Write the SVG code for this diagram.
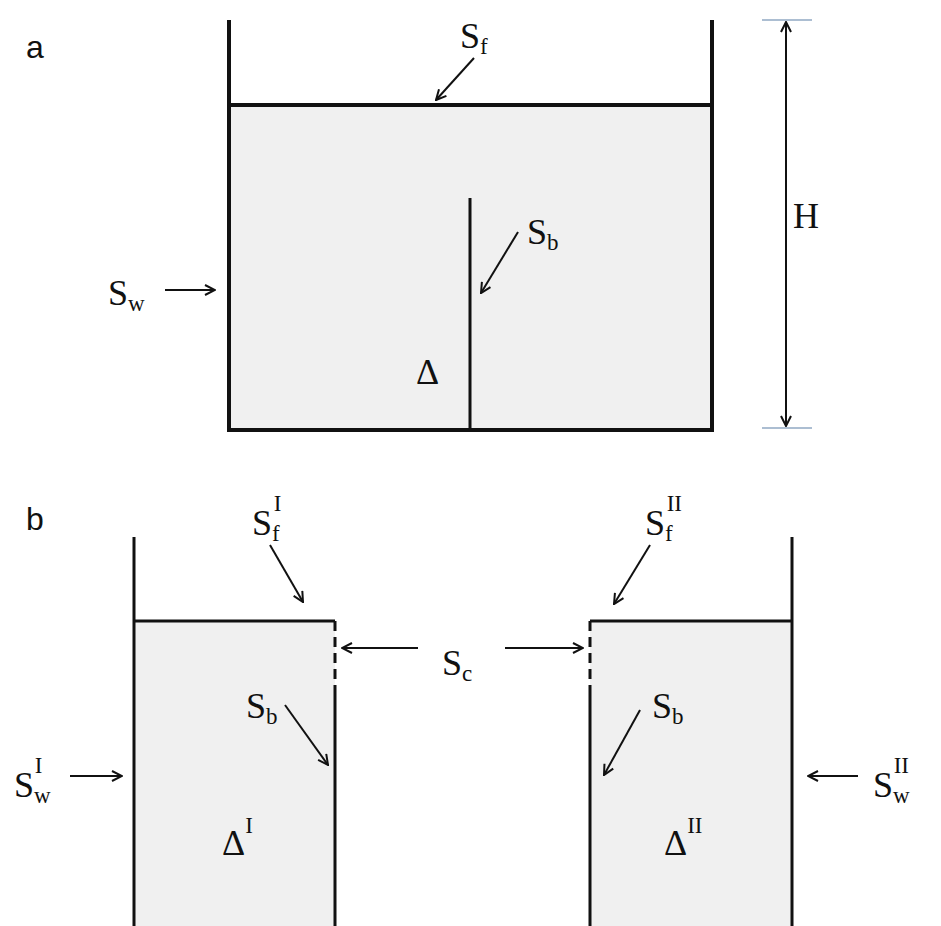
<svg xmlns="http://www.w3.org/2000/svg" width="941" height="926" viewBox="0 0 941 926">
<style>
.w{stroke:#111;stroke-width:4;fill:none}
.t{stroke:#111;stroke-width:3;fill:none}
.a{stroke:#111;stroke-width:2;fill:none;marker-end:url(#ah)}
.s{font-size:36px;fill:#111}
.sub{font-size:23px}
.l{font-size:32px;fill:#111}
.f{fill:#f0f0f0}
</style>
<defs>
<marker id="ah" viewBox="0 0 12 12" refX="11" refY="6" markerWidth="12" markerHeight="12" markerUnits="userSpaceOnUse" orient="auto"><path d="M1,1 L11,6 L1,11" fill="none" stroke="#111" stroke-width="2"/></marker>
</defs>
<rect width="941" height="926" fill="#fff"/>
<g id="panel-a" font-family="'Liberation Serif','Times New Roman','DejaVu Serif',serif">
<text class="l" font-family="'Liberation Sans',Arial,sans-serif" x="26" y="58">a</text>
<rect class="f" x="229" y="105" width="483" height="325"/>
<path class="w" d="M229,20 V430 H712 V20"/>
<path class="w" d="M229,105 H712"/>
<path class="t" d="M470,198 V430"/>
<text class="s" x="460" y="48">S<tspan class="sub" dy="6">f</tspan></text>
<text class="s" x="527" y="244">S<tspan class="sub" dy="6">b</tspan></text>
<text class="s" x="108" y="305">S<tspan class="sub" dy="6">w</tspan></text>
<text class="s" x="416" y="384">Δ</text>
<text class="s" x="793" y="228">H</text>
<path d="M762,20 H812 M762,428 H812" stroke="#5b7fa6" stroke-width="1.2"/>
</g>
<g id="panel-b" font-family="'Liberation Serif','Times New Roman','DejaVu Serif',serif">
<text class="l" font-family="'Liberation Sans',Arial,sans-serif" x="26" y="530">b</text>
<rect class="f" x="134" y="621" width="201" height="305"/>
<rect class="f" x="590" y="621" width="202" height="305"/>
<path class="t" d="M134,537 V926 M134,621 H335 M335,690 V926"/>
<path class="t" d="M335,621 V690" stroke-dasharray="10,6"/>
<path class="t" d="M792,537 V926 M590,621 H792 M590,690 V926"/>
<path class="t" d="M590,621 V690" stroke-dasharray="10,6"/>
<text class="s" x="252" y="535">S<tspan class="sub" dy="6">f</tspan><tspan class="sub" dx="-6" dy="-30">I</tspan></text>
<text class="s" x="645" y="535">S<tspan class="sub" dy="6">f</tspan><tspan class="sub" dx="-6" dy="-30">II</tspan></text>
<text class="s" x="442" y="675">S<tspan class="sub" dy="6">c</tspan></text>
<text class="s" x="246" y="718">S<tspan class="sub" dy="6">b</tspan></text>
<text class="s" x="652" y="718">S<tspan class="sub" dy="6">b</tspan></text>
<text class="s" x="14" y="797">S<tspan class="sub" dy="6">w</tspan><tspan class="sub" dx="-16" dy="-30">I</tspan></text>
<text class="s" x="873" y="797">S<tspan class="sub" dy="6">w</tspan><tspan class="sub" dx="-16" dy="-30">II</tspan></text>
<text class="s" x="222" y="855">Δ<tspan class="sub" dy="-22">I</tspan></text>
<text class="s" x="664" y="855">Δ<tspan class="sub" dy="-22">II</tspan></text>
</g>
<g id="connectors">
<path class="a" d="M474,58 L436,100"/>
<path class="a" d="M518,232 L481,293"/>
<path class="a" d="M165,290 L215,290"/>
<path class="a" d="M786,90 L786,22"/>
<path class="a" d="M786,340 L786,426"/>
<path d="M786,80 V350" stroke="#111" stroke-width="2"/>
<path class="a" d="M270,545 L303,602"/>
<path class="a" d="M650,545 L614,604"/>
<path class="a" d="M418,648 L342,648"/>
<path class="a" d="M505,648 L583,648"/>
<path class="a" d="M285,705 L328,765"/>
<path class="a" d="M640,710 L604,775"/>
<path class="a" d="M70,776 L122,776"/>
<path class="a" d="M858,776 L808,776"/>
</g>
</svg>
